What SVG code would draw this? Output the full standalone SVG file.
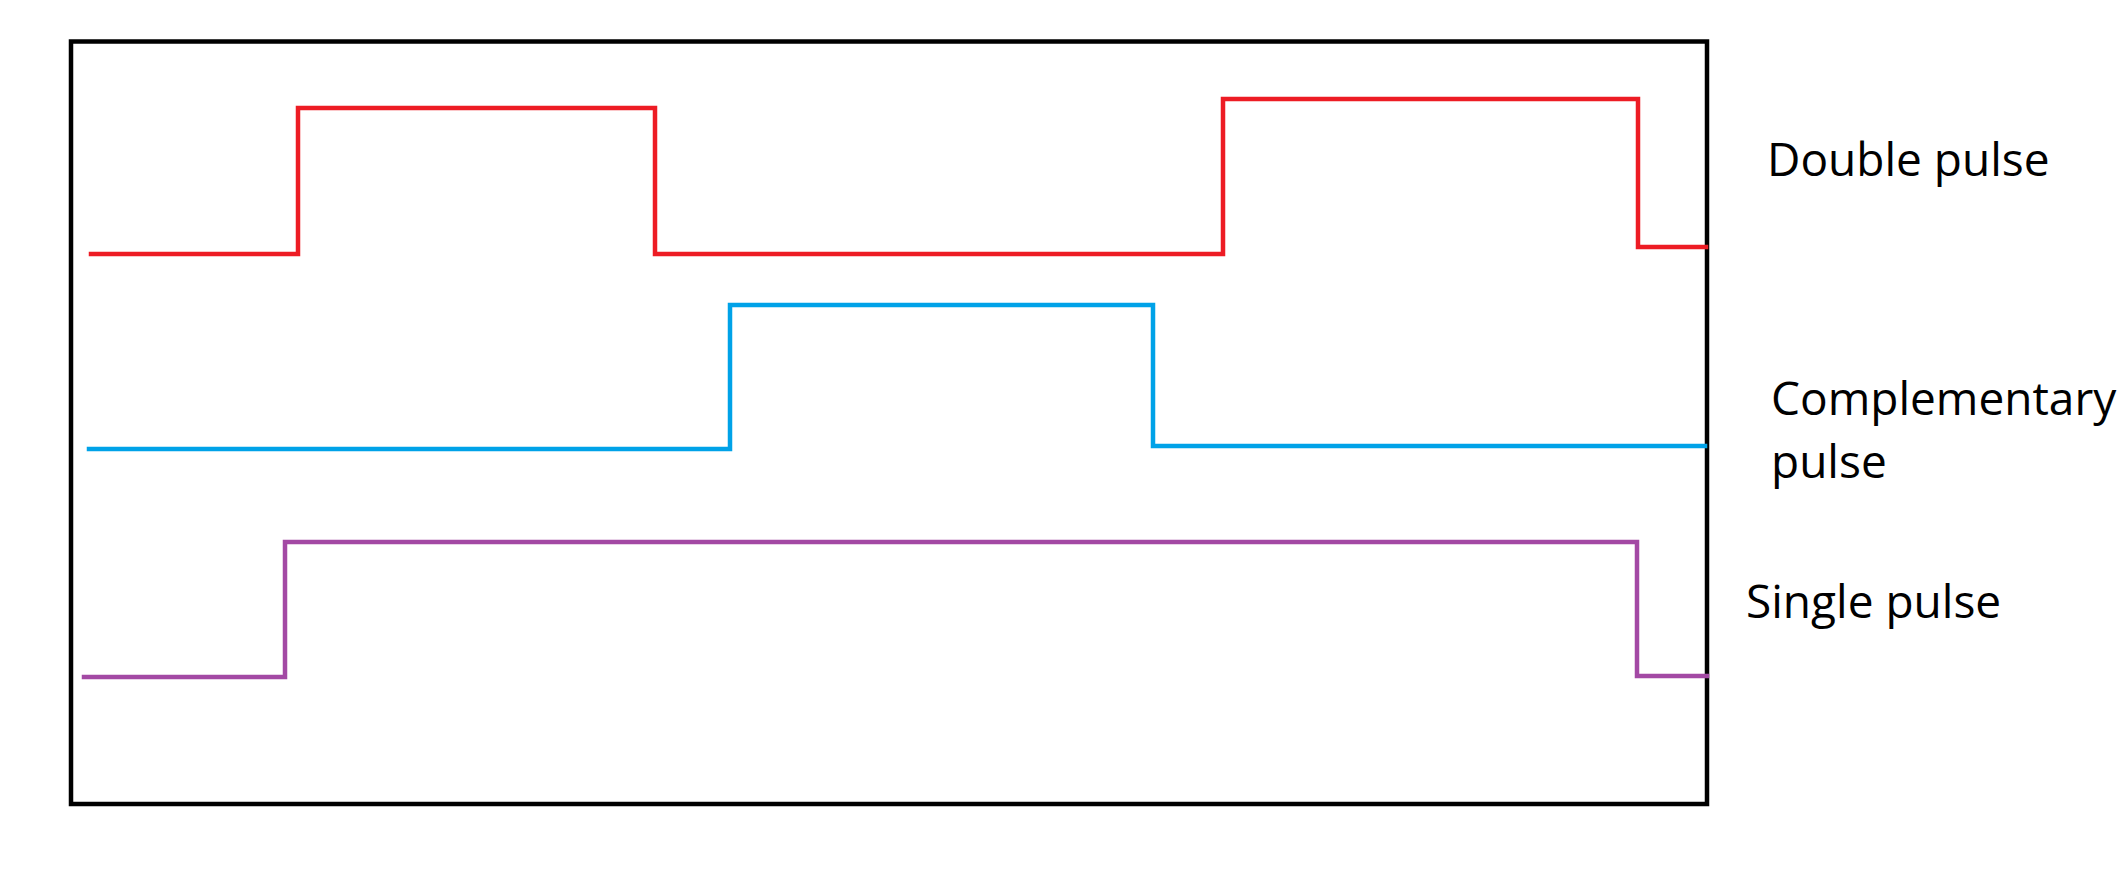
<svg xmlns="http://www.w3.org/2000/svg" width="2122" height="883" viewBox="0 0 2122 883">
<style>
.sig{fill:none;stroke-width:4.5;stroke-linejoin:miter;stroke-linecap:square}
.lbl{font-family:"Open Sans","Noto Sans","Liberation Sans",sans-serif;font-size:46px;fill:#000}
</style>
<rect width="2122" height="883" fill="#fff"/>
<g id="frame"><rect x="71" y="41.5" width="1636" height="762.5" fill="none" stroke="#000" stroke-width="4.5"/></g>
<g id="connectors">
<path id="double" class="sig" stroke="#ED1C24" d="M91 254 H298 V108 H655 V254 H1223 V99 H1638 V247 H1706"/>
<path id="complementary" class="sig" stroke="#00A2E8" d="M89 449 H730 V305 H1153 V446 H1705"/>
<path id="single" class="sig" stroke="#A349A4" d="M84 677 H285 V542 H1637 V676 H1707"/>
</g>
<g id="label-double"><text class="lbl" x="1767" y="176">Double pulse</text></g>
<g id="label-complementary"><text class="lbl" x="1771" y="415">Complementary</text><text class="lbl" x="1771" y="478">pulse</text></g>
<g id="label-single"><text class="lbl" x="1746" y="618">Single pulse</text></g>
</svg>
